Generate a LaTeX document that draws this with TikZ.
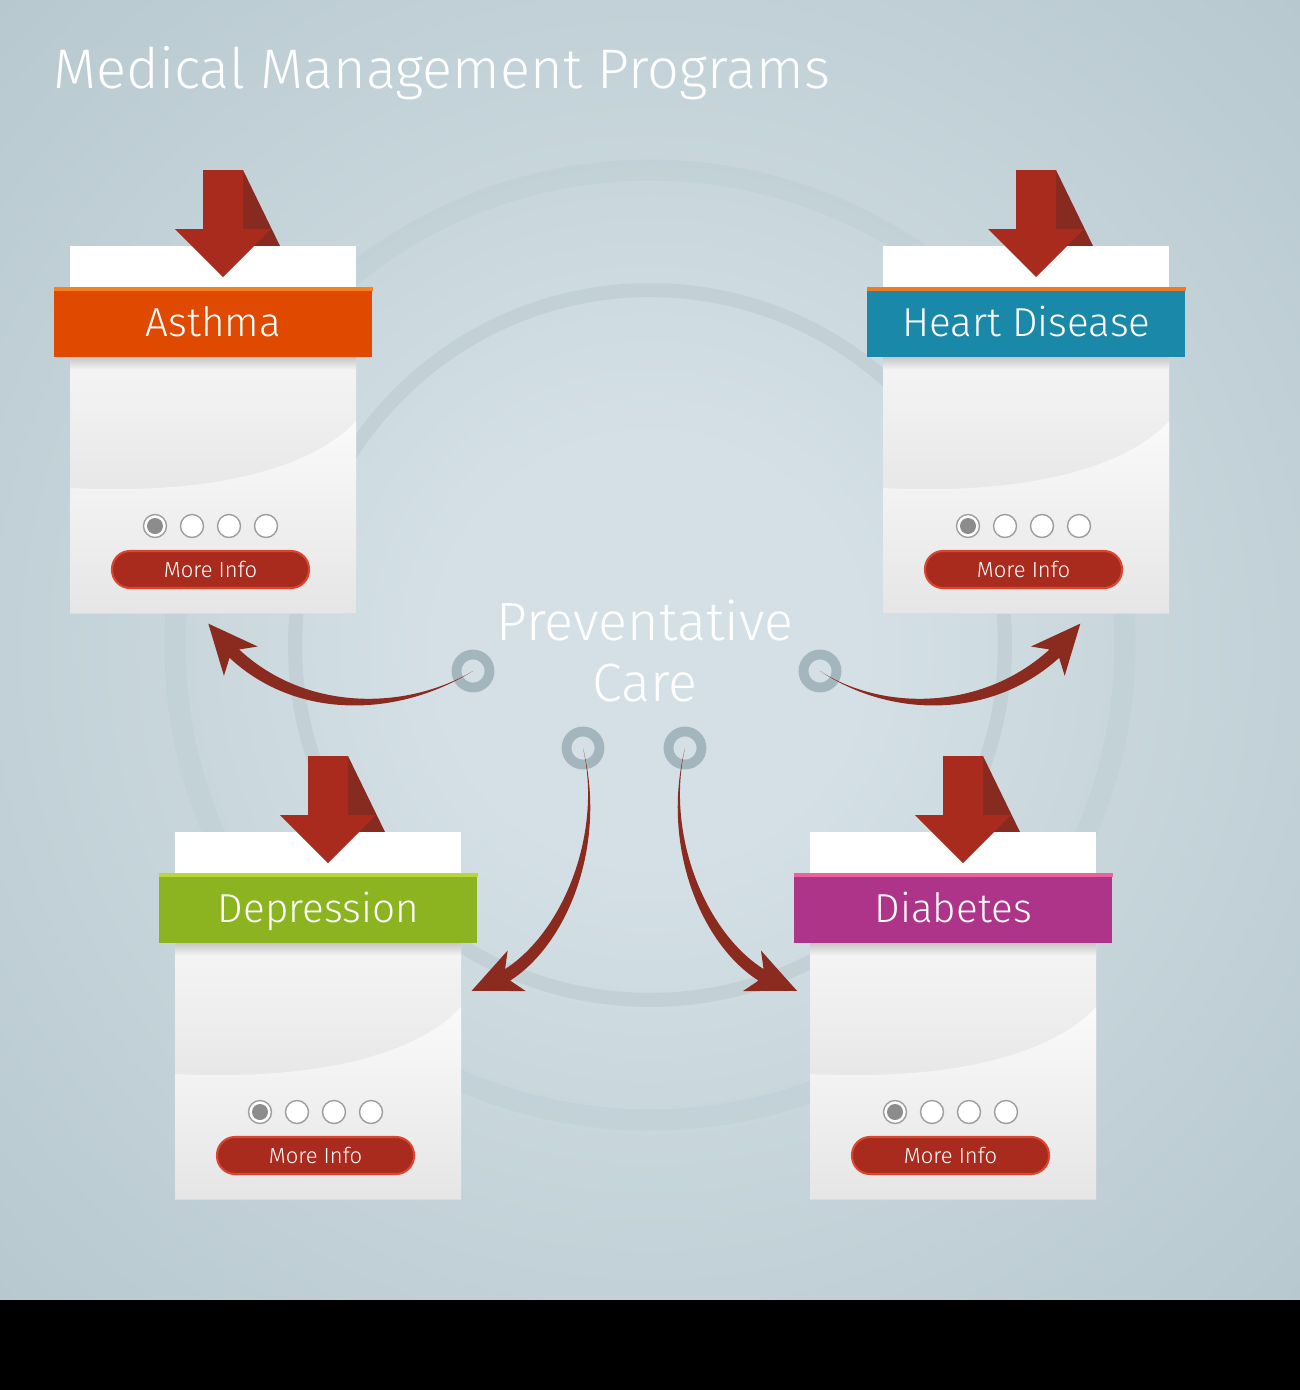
\documentclass[tikz,border=0pt]{standalone}
\usepackage{fontspec}
\setmainfont{Fira Sans Light}
\usepackage{xcolor}
\usepackage{tikz}
\usetikzlibrary{calc, positioning}
\definecolor{mmbgin}{HTML}{D4E0E5}
\definecolor{mmbgmid}{HTML}{BFCFD5}
\definecolor{mmbgout}{HTML}{A9BDC5}
\definecolor{mmring}{HTML}{A3B6BD}
\definecolor{mmred}{HTML}{A82B1E}
\definecolor{mmfold}{HTML}{872A1F}
\definecolor{mmsweep}{HTML}{8B2A1E}
\definecolor{mmbtnedge}{HTML}{DC4530}
\definecolor{mmorange}{HTML}{E04A00}
\definecolor{mmorangetop}{HTML}{F7801F}
\definecolor{mmteal}{HTML}{1A88A8}
\definecolor{mmtealtop}{HTML}{F07A22}
\definecolor{mmgreen}{HTML}{8CB421}
\definecolor{mmgreentop}{HTML}{B8D53A}
\definecolor{mmpink}{HTML}{AE3489}
\definecolor{mmpinktop}{HTML}{E9629E}
\definecolor{mmdot}{HTML}{8C8C8C}

\pgfdeclareradialshading{mmglow}{\pgfpoint{0bp}{0bp}}{color(0bp)=(mmbgin); color(8bp)=(mmbgin); color(27bp)=(mmbgmid); color(50bp)=(mmbgout)}

% tapered curved arrow: start, ctrl1, ctrl2, head base, tip
\newcommand\sweeparrow[5]{%
  \coordinate (sw-pp) at ($(#4)!0.16!90:(#5)$);
  \coordinate (sw-pm) at ($(#4)!0.16!-90:(#5)$);
  \coordinate (sw-bk) at ($(#4)!-0.25!(#5)$);
  \coordinate (sw-bp) at ($(sw-bk)!0.45!90:(#5)$);
  \coordinate (sw-bm) at ($(sw-bk)!0.45!-90:(#5)$);
  \fill[sweep] (#1) .. controls ($(#2)+0.9*(sw-pp)-0.9*(#4)$) and ($(#3)+(sw-pp)-(#4)$) .. (sw-pp) -- (sw-bp) -- (#5) -- (sw-bm) -- (sw-pm) .. controls ($(#3)+(sw-pm)-(#4)$) and ($(#2)+0.9*(sw-pm)-0.9*(#4)$) .. (#1) -- cycle;
}

\begin{document}
\begin{tikzpicture}[x=0.02cm, y=-0.02cm,
  card/.style={rectangle, fill=white, inner sep=0pt, minimum width=5.72cm, minimum height=7.34cm, anchor=north west},
  band/.style={rectangle, inner sep=0pt, minimum width=6.36cm, minimum height=1.4cm, anchor=north west, text=white, text height=15.8pt, text depth=0pt, font=\fontsize{23}{26}\selectfont},
  dotbtn/.style={circle, draw=black!38, line width=0.8pt, fill=white, minimum size=0.46cm, inner sep=0pt},
  morebtn/.style={rectangle, rounded corners=0.36cm, fill=mmred, draw=mmbtnedge, line width=1.2pt, minimum width=3.94cm, minimum height=0.74cm, inner sep=0pt, text=white, text height=8.6pt, text depth=0pt, font=\fontsize{12.5}{15}\selectfont},
  smallring/.style={circle, draw=mmring, line width=5.6pt, minimum size=0.66cm, inner sep=0pt},
  sweep/.style={fill=mmsweep}]
\useasboundingbox (0,0) rectangle (1300,1390);

% Background
\shade[shading=mmglow] (0,0) rectangle (1300,1300);
\draw[mmring, opacity=0.25, line width=8pt] (650,645) circle (7.1cm);
\draw[mmring, opacity=0.15, line width=12pt] (650,645) circle (9.5cm);
\fill[black] (0,1300) rectangle (1300,1390);

\node[anchor=base west, text=white, inner sep=0pt, font=\fontsize{31.8}{36}\selectfont] (title) at (53,88) {Medical Management Programs};

% Program cards
\foreach \n/\x/\y/\txt/\bc/\sc in {asthma/70/246/Asthma/mmorange/mmorangetop, heart/883/246/Heart Disease/mmteal/mmtealtop, depression/175/832/Depression/mmgreen/mmgreentop, diabetes/810/832/Diabetes/mmpink/mmpinktop}{
  \fill[mmfold] (\x+173,\y-76) -- (\x+210,\y) -- (\x+173,\y) -- cycle;
  \node[card] (card-\n) at (\x,\y) {};
  \shade[top color=black!4, bottom color=black!14] (\x,\y+111) rectangle (\x+286,\y+367);
  \shade[top color=black!2, bottom color=black!10] (\x,\y+242) .. controls (\x+160,\y+250) and (\x+250,\y+215) .. (\x+286,\y+175) -- (\x+286,\y+367) -- (\x,\y+367) -- cycle;
  \shade[top color=black!22, bottom color=black!4] (\x,\y+111) rectangle (\x+286,\y+124);
  \node[band, fill=\bc] (band-\n) at (\x-16,\y+41) {\txt};
  \fill[\sc] (band-\n.north west) rectangle ($(band-\n.north east)+(0,4)$);
  \fill[mmred] (\x+133,\y-76) -- (\x+173,\y-76) -- (\x+173,\y-17) -- (\x+201,\y-17) -- (\x+153,\y+31) -- (\x+105,\y-17) -- (\x+133,\y-17) -- cycle;
  \foreach \i in {0,...,3}
    \node[dotbtn] (dot-\n-\i) at (\x+85+37*\i,\y+280) {};
  \fill[mmdot] (dot-\n-0) circle (0.16cm);
  \node[morebtn] (more-\n) at (\x+140.5,\y+323.5) {More Info};
}

% Centre
\node[smallring] (ring-nw) at (473,671) {};
\node[smallring] (ring-ne) at (820,671) {};
\node[smallring] (ring-sw) at (583,748) {};
\node[smallring] (ring-se) at (685,748) {};
\node[align=center, text=white, font=\fontsize{30.7}{35}\selectfont] (care) at (645,651) {Preventative\\Care};

\coordinate (tip-asthma) at ($(card-asthma.south)+(-5,10)$);
\coordinate (base-asthma) at ($(tip-asthma)+(26,30)$);
\coordinate (tip-heart) at ($(card-heart.south)+(54,10)$);
\coordinate (base-heart) at ($(tip-heart)+(-26,30)$);
\coordinate (tip-depression) at ($(card-depression.east)+(10,-25)$);
\coordinate (base-depression) at ($(tip-depression)+(36,-16)$);
\coordinate (tip-diabetes) at ($(card-diabetes.west)+(-13,-25)$);
\coordinate (base-diabetes) at ($(tip-diabetes)+(-36,-16)$);

\sweeparrow{ring-nw.center}{400,715}{300,715}{base-asthma}{tip-asthma}
\sweeparrow{ring-ne.center}{887,715}{987,715}{base-heart}{tip-heart}
\sweeparrow{ring-sw.center}{605,840}{565,938}{base-depression}{tip-depression}
\sweeparrow{ring-se.center}{663,840}{703,938}{base-diabetes}{tip-diabetes}
\end{tikzpicture}
\end{document}
